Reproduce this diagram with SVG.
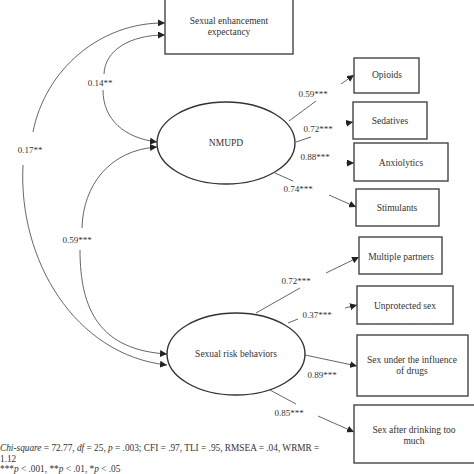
<svg xmlns="http://www.w3.org/2000/svg" width="474" height="474" viewBox="0 0 474 474">
<style>
text{font-family:"Liberation Serif","Times New Roman","DejaVu Serif",serif;font-size:9.5px;fill:#333;text-anchor:middle}
.box{fill:#fff;stroke:#444;stroke-width:1.4}
.ell{fill:#fff;stroke:#333;stroke-width:1.4}
.ln{fill:none;stroke:#555;stroke-width:0.9}
.lb{font-size:9px}
.note{text-anchor:start;font-size:9.3px}
</style>
<defs>
<marker id="ah" viewBox="0 0 10 10" refX="10" refY="5" markerWidth="7" markerHeight="7" markerUnits="userSpaceOnUse" orient="auto">
<path d="M0,0 L10,5 L0,10 z" fill="#222"/>
</marker>
</defs>
<rect width="474" height="474" fill="#fff"/>
<g id="connectors">
<path class="ln" d="M33,132 C45,70 100,22 165,23" marker-end="url(#ah)"/>
<path class="ln" d="M23,165 C18,260 75,355 167,365" marker-end="url(#ah)"/>
<path class="ln" d="M104,74 C105,50 130,35 165,35" marker-end="url(#ah)"/>
<path class="ln" d="M103,90 C103,120 125,138 157,142" marker-end="url(#ah)"/>
<path class="ln" d="M82,228 C83,185 110,150 157,147" marker-end="url(#ah)"/>
<path class="ln" d="M80,250 C80,310 100,350 167,354" marker-end="url(#ah)"/>
<path class="ln" d="M289,121 L316,101"/>
<path class="ln" d="M341,84 L354,75" marker-end="url(#ah)"/>
<path class="ln" d="M296,142 L311,137"/>
<path class="ln" d="M348,123 L353,122" marker-end="url(#ah)"/>
<path class="ln" d="M346,163 L354,163" marker-end="url(#ah)"/>
<path class="ln" d="M275,173 L293,181"/>
<path class="ln" d="M329,195 L356,207" marker-end="url(#ah)"/>
<path class="ln" d="M256,313 L300,288"/>
<path class="ln" d="M326,273 L359,257" marker-end="url(#ah)"/>
<path class="ln" d="M288,323 L298,319"/>
<path class="ln" d="M345,308 L357,305" marker-end="url(#ah)"/>
<path class="ln" d="M305,355 L357,366" marker-end="url(#ah)"/>
<path class="ln" d="M270,390 L296,404"/>
<path class="ln" d="M318,416 L354,432" marker-end="url(#ah)"/>
<text class="lb" x="100" y="86">0.14**</text>
<text class="lb" x="30" y="153">0.17**</text>
<text class="lb" x="77" y="243">0.59***</text>
<text class="lb" x="313" y="97">0.59***</text>
<text class="lb" x="318" y="132">0.72***</text>
<text class="lb" x="315" y="160">0.88***</text>
<text class="lb" x="298" y="192">0.74***</text>
<text class="lb" x="296" y="284">0.72***</text>
<text class="lb" x="317" y="318">0.37***</text>
<text class="lb" x="322" y="378">0.89***</text>
<text class="lb" x="289" y="416">0.85***</text>
</g>
<g id="sexual-enhancement">
<rect class="box" x="165" y="-3" width="128" height="57"/>
<text x="229" y="24">Sexual enhancement</text>
<text x="229" y="35">expectancy</text>
</g>
<g id="nmupd">
<ellipse class="ell" cx="226" cy="143" rx="69" ry="41"/>
<text x="226" y="146">NMUPD</text>
</g>
<g id="sexual-risk">
<ellipse class="ell" cx="236" cy="354" rx="69" ry="41"/>
<text x="236" y="357">Sexual risk behaviors</text>
</g>
<g id="opioids">
<rect class="box" x="354" y="58" width="65" height="35"/>
<text x="387" y="78">Opioids</text>
</g>
<g id="sedatives">
<rect class="box" x="353" y="102" width="74" height="37"/>
<text x="390" y="124">Sedatives</text>
</g>
<g id="anxiolytics">
<rect class="box" x="354" y="143" width="94" height="38"/>
<text x="401" y="166">Anxiolytics</text>
</g>
<g id="stimulants">
<rect class="box" x="356" y="189" width="83" height="37"/>
<text x="397" y="211">Stimulants</text>
</g>
<g id="multiple-partners">
<rect class="box" x="359" y="237" width="83" height="37"/>
<text x="401" y="260">Multiple partners</text>
</g>
<g id="unprotected-sex">
<rect class="box" x="357" y="286" width="96" height="38"/>
<text x="405" y="309">Unprotected sex</text>
</g>
<g id="sex-drugs">
<rect class="box" x="357" y="335" width="111" height="61"/>
<text x="412" y="363">Sex under the influence</text>
<text x="412" y="374">of drugs</text>
</g>
<g id="sex-drinking">
<rect class="box" x="354" y="405" width="122" height="58"/>
<text x="414" y="433">Sex after drinking too</text>
<text x="414" y="444">much</text>
</g>
<g id="note">
<text class="note" x="0" y="451"><tspan font-style="italic">Chi-square</tspan> = 72.77, <tspan font-style="italic">df</tspan> = 25, <tspan font-style="italic">p</tspan> = .003; CFI = .97, TLI = .95, RMSEA = .04, WRMR =</text>
<text class="note" x="0" y="461.5">1.12</text>
<text class="note" x="0" y="472">***<tspan font-style="italic">p</tspan> &lt; .001, **<tspan font-style="italic">p</tspan> &lt; .01, *<tspan font-style="italic">p</tspan> &lt; .05</text>
</g>
</svg>
